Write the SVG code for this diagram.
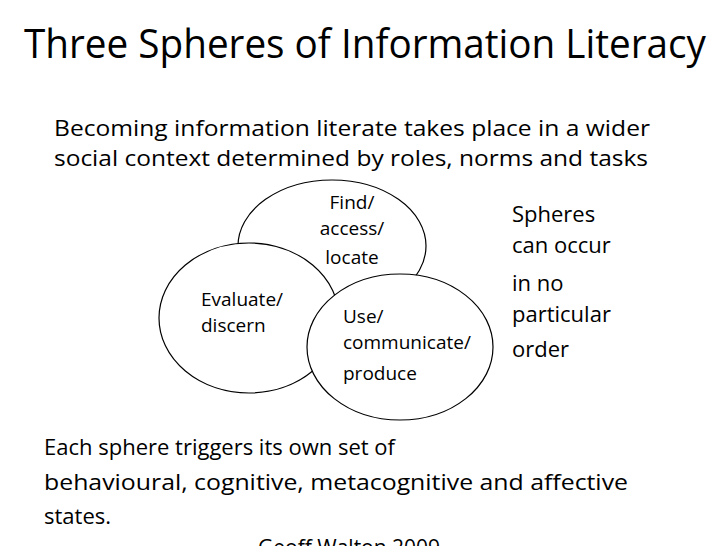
<svg xmlns="http://www.w3.org/2000/svg" width="728" height="546" viewBox="0 0 728 546">
<style>
text{font-family:"Open Sans","Noto Sans",sans-serif;fill:#000}
.s{font-size:19px}
.b{font-size:22px}
ellipse{fill:#fff;stroke:#000;stroke-width:1.2}
</style>
<rect width="728" height="546" fill="#fff"/>
<text x="24" y="58" font-size="40" textLength="682" lengthAdjust="spacingAndGlyphs">Three Spheres of Information Literacy</text>
<text class="b" x="54" y="136" textLength="596" lengthAdjust="spacingAndGlyphs">Becoming information literate takes place in a wider</text>
<text class="b" x="54" y="166" textLength="594" lengthAdjust="spacingAndGlyphs">social context determined by roles, norms and tasks</text>
<g id="find"><ellipse cx="332" cy="246" rx="94" ry="66"/>
<text class="s" text-anchor="middle"><tspan x="352" y="209">Find/</tspan><tspan x="352" y="235">access/</tspan><tspan x="352" y="264">locate</tspan></text></g>
<g id="evaluate"><ellipse cx="249" cy="318" rx="90" ry="75"/>
<text class="s"><tspan x="201" y="306">Evaluate/</tspan><tspan x="201" y="332">discern</tspan></text></g>
<g id="use"><ellipse cx="400" cy="347" rx="93" ry="73"/>
<text class="s"><tspan x="343" y="323">Use/</tspan><tspan x="343" y="349">communicate/</tspan><tspan x="343" y="380">produce</tspan></text></g>
<g id="connectors"/>
<text class="b"><tspan x="512" y="222">Spheres</tspan><tspan x="512" y="253">can occur</tspan><tspan x="512" y="291">in no</tspan><tspan x="512" y="322">particular</tspan><tspan x="512" y="357">order</tspan></text>
<text class="b"><tspan x="44" y="455">Each sphere triggers its own set of</tspan><tspan x="44" y="490" textLength="584" lengthAdjust="spacingAndGlyphs">behavioural, cognitive, metacognitive and affective</tspan><tspan x="44" y="524">states.</tspan></text>
<text x="258" y="555" font-family="Liberation Sans, Arial, sans-serif" font-size="21">Geoff Walton 2009</text>
</svg>
